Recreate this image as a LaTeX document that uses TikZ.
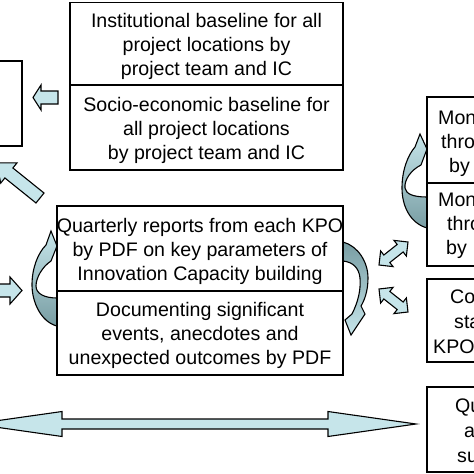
\documentclass[tikz,border=0pt]{standalone}
\usepackage{fontspec}
\setmainfont{Liberation Sans}
\definecolor{abl}{RGB}{198,229,234}
\definecolor{adk}{RGB}{120,157,163}
\tikzset{
  box/.style={draw, line width=1.3pt, inner sep=0pt},
  txt/.style={inner sep=0pt, align=center, font=\fontsize{19.6}{24}\selectfont},
  frag/.style={anchor=base west, inner sep=0pt, font=\fontsize{19.6}{24}\selectfont},
  blockarrow/.style={draw, line width=1.1pt, fill=abl},
  curvearrow/.style={draw, line width=1.1pt},
}
% single block arrow: x1 y1 (tail) x2 y2 (tip) bodyhalf headhalf headlen
\newcommand{\sarrow}[7]{%
  \pgfmathsetmacro\arang{atan2((#2)-(#4),(#3)-(#1))}%
  \pgfmathsetmacro\arlen{veclen((#3)-(#1),(#4)-(#2))}%
  \pgfmathsetmacro\arbase{\arlen-(#7)}%
  \begin{scope}[shift={(#1,#2)},rotate=\arang]
    \draw[blockarrow] (0,-#5) -- (\arbase,-#5) -- (\arbase,-#6) -- (\arlen,0)
      -- (\arbase,#6) -- (\arbase,#5) -- (0,#5) -- cycle;
  \end{scope}}
% double block arrow: x1 y1 x2 y2 (tips) bodyhalf headhalf headlen
\newcommand{\darrow}[7]{%
  \pgfmathsetmacro\arang{atan2((#2)-(#4),(#3)-(#1))}%
  \pgfmathsetmacro\arlen{veclen((#3)-(#1),(#4)-(#2))}%
  \pgfmathsetmacro\arbase{\arlen-(#7)}%
  \begin{scope}[shift={(#1,#2)},rotate=\arang]
    \draw[blockarrow] (0,0) -- (#7,-#6) -- (#7,-#5) -- (\arbase,-#5) -- (\arbase,-#6)
      -- (\arlen,0) -- (\arbase,#6) -- (\arbase,#5) -- (#7,#5) -- (#7,#6) -- cycle;
  \end{scope}}
\begin{document}
\begin{tikzpicture}[x=1pt,y=-1pt]
\useasboundingbox (0,0) rectangle (474,474);
\fill[white] (0,0) rectangle (474,474);
\clip (0,0) rectangle (474,474);

% straight block arrows
\sarrow{58}{97.5}{33}{97.5}{6.5}{12.5}{8}
\sarrow{-2}{290.5}{22}{290.5}{6.5}{13.5}{12}
\sarrow{40}{198}{-3.6}{162.9}{6.4}{13}{16}
\darrow{379}{265}{408}{242}{4.8}{10}{10}
\darrow{379}{289}{408}{312}{4.8}{10}{10}
\darrow{-26}{424}{416}{424}{5}{12.5}{88}

% curved arrows
\draw[curvearrow, top color=abl, middle color=abl, bottom color=adk]
  (57,326) .. controls (41,322) and (32,302) .. (32,285)
  .. controls (32,268) and (38,253) .. (46,245) -- (51,231) -- (57,246) -- (51,261)
  .. controls (42,267) and (36,278) .. (36,286)
  .. controls (36,294) and (45,298) .. (57,298) -- cycle;
\draw[curvearrow, top color=adk, middle color=abl, bottom color=abl]
  (343,242) .. controls (358,246) and (368,262) .. (368,278)
  .. controls (368,292) and (364,301) .. (361,306) -- (365,314) -- (351,335) -- (345,320) -- (352,314)
  .. controls (358,302) and (361,290) .. (360,278)
  .. controls (359,268) and (353,262) .. (343,261) -- cycle;
\draw[curvearrow, top color=abl, middle color=abl, bottom color=adk]
  (427,228) .. controls (410,223) and (402,206) .. (402,188)
  .. controls (402,170) and (408,155) .. (415,147) -- (420,134) -- (427,149) -- (421,165)
  .. controls (411,170) and (404,180) .. (405,188)
  .. controls (406,194) and (413,197) .. (427,197) -- cycle;

% boxes
\node[box, minimum width=82, minimum height=85] (leftbox) at (-19,103.5) {};
\node[box, minimum width=273, minimum height=82.5] (inst) at (206.5,43.75) {};
\node[box, minimum width=273, minimum height=85] (socio) at (206.5,127.5) {};
\node[box, minimum width=286, minimum height=85] (quart) at (200,248.5) {};
\node[box, minimum width=286, minimum height=84] (docu) at (200,333) {};
\node[box, minimum width=113, minimum height=86] (monA) at (483.5,140) {};
\node[box, minimum width=113, minimum height=83] (monB) at (483.5,224.5) {};
\node[box, minimum width=113, minimum height=83] (conb) at (483.5,320.5) {};
\node[box, minimum width=113, minimum height=85] (qbox) at (483.5,429.5) {};

% box texts
\node[txt] (instT) at ([yshift=-3pt]inst.center)
  {Institutional baseline for all\\project locations by\\project team and IC};
\node[txt] (socioT) at ([yshift=-2.5pt]socio.center)
  {Socio-economic baseline for\\all project locations\\by project team and IC};
\node[txt] (quartT) at ([yshift=-3pt]quart.center)
  {Quarterly reports from each KPO\\by PDF on key parameters of\\Innovation Capacity building};
\node[txt] (docuT) at ([yshift=-2.5pt]docu.center)
  {Documenting significant\\events, anecdotes and\\unexpected outcomes by PDF};

% visible text fragments of the cut-off right boxes
\node[frag] (ma1) at (438,124) {Mon};
\node[frag] (ma2) at (441,148) {thro};
\node[frag] (ma3) at (449,172) {by};
\node[frag] (mb1) at (438,206) {Mon};
\node[frag] (mb2) at (447,230) {thro};
\node[frag] (mb3) at (446,254) {by};
\node[frag] (cb1) at (450,303) {Co};
\node[frag] (cb2) at (454,328) {sta};
\node[frag] (cb3) at (433,353) {KPO};
\node[frag] (qb1) at (455,412) {Qu};
\node[frag] (qb2) at (464,437) {a};
\node[frag] (qb3) at (457,462) {su};
\end{tikzpicture}
\end{document}
